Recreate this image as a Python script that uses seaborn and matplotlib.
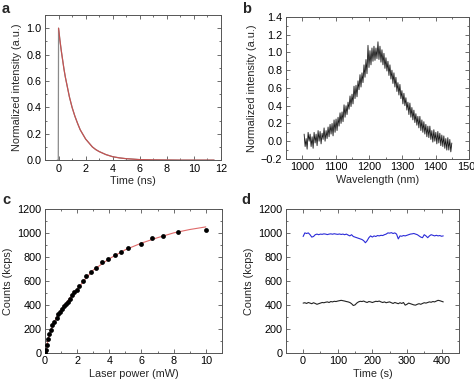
import numpy as np
import pandas as pd
import seaborn as sns
import matplotlib.pyplot as plt
from matplotlib.ticker import MultipleLocator

# ---- panel a: lifetime decay ----
decay_t = [-0.1, -0.02, 0.0, 0.1, 0.2, 0.3, 0.4, 0.5, 0.6, 0.8, 1.0, 1.2, 1.4, 1.6,
           1.8, 2.0, 2.25, 2.5, 2.75, 3.0, 3.5, 4.0, 4.5, 5.0, 6.0, 7.0, 8.0, 9.0,
           10.0, 11.0, 11.5]
decay_raw = [0.0, 0.0, 1.0, 0.91, 0.83, 0.76, 0.69, 0.63, 0.58, 0.48, 0.40, 0.335,
             0.28, 0.23, 0.195, 0.16, 0.13, 0.10, 0.08, 0.065, 0.042, 0.026, 0.017,
             0.011, 0.004, 0.002, 0.001, 0.0, 0.0, 0.0, 0.0]

# ---- panel b: emission spectrum ----
wl_start, wl_step = 1005, 3
spectrum = [
    0.08, -0.06, 0.03, -0.09, 0.10, 0.00, 0.08, -0.06, 0.05, -0.08,
    0.10, -0.02, 0.08, -0.05, 0.12, 0.00, 0.11, -0.03, 0.09, 0.02,
    0.15, 0.00, 0.12, 0.03, 0.16, 0.05, 0.19, 0.08, 0.20, 0.06,
    0.24, 0.10, 0.25, 0.12, 0.27, 0.17, 0.32, 0.20, 0.33, 0.22,
    0.41, 0.27, 0.40, 0.30, 0.44, 0.36, 0.51, 0.39, 0.53, 0.42,
    0.62, 0.48, 0.63, 0.50, 0.68, 0.58, 0.75, 0.61, 0.77, 0.66,
    0.86, 0.72, 0.92, 0.76, 1.08, 0.83, 1.02, 0.86, 1.05, 0.90,
    1.07, 0.91, 1.05, 0.93, 1.12, 0.92, 1.07, 0.89, 1.03, 0.86,
    0.99, 0.82, 0.94, 0.79, 0.90, 0.74, 0.86, 0.70, 0.80, 0.65,
    0.77, 0.61, 0.72, 0.56, 0.66, 0.52, 0.64, 0.48, 0.57, 0.42,
    0.54, 0.40, 0.49, 0.35, 0.44, 0.30, 0.43, 0.27, 0.38, 0.24,
    0.35, 0.21, 0.31, 0.18, 0.28, 0.15, 0.28, 0.12, 0.24, 0.10,
    0.22, 0.08, 0.19, 0.05, 0.17, 0.04, 0.17, 0.02, 0.12, -0.01,
    0.13, 0.00, 0.10, -0.03, 0.11, -0.02, 0.09, -0.05, 0.07, -0.06,
    0.06, -0.08, 0.03, -0.10, 0.04, -0.10, 0.02, -0.12, -0.02,
]

# ---- panel c: saturation ----
power = [0, 0.04, 0.10, 0.16, 0.25, 0.35, 0.45, 0.58, 0.72, 0.82, 0.93, 1.03,
         1.15, 1.30, 1.44, 1.55, 1.69, 1.79, 1.96, 2.12, 2.35, 2.58, 2.85, 3.15,
         3.57, 3.92, 4.35, 4.74, 5.15, 5.98, 6.66, 7.32, 8.25, 10.0]
counts = [0, 25, 66, 113, 158, 191, 232, 260, 293, 321, 343, 365, 393, 406, 428,
          453, 481, 509, 520, 556, 600, 641, 675, 708, 757, 785, 818, 838, 871,
          904, 957, 976, 1006, 1028]
fit_power = [0, 0.1, 0.25, 0.5, 0.75, 1.0, 1.5, 2, 2.5, 3, 4, 5, 6, 7, 8, 9, 10]
fit_counts = [0, 60, 140, 235, 305, 360, 450, 530, 615, 690, 785, 860, 915, 960,
              1000, 1028, 1050]

# ---- panel d: stability ----
time_step = 5
counts_high = [
    970, 1000, 995, 1000, 985, 965, 970, 985, 990, 985,
    990, 988, 992, 990, 986, 990, 992, 989, 993, 990,
    988, 991, 987, 990, 985, 990, 982, 975, 985, 970,
    965, 960, 955, 950, 945, 935, 918, 935, 960, 975,
    965, 975, 970, 978, 975, 980, 978, 985, 990, 1000,
    998, 1002, 995, 1000, 990, 950, 975, 972, 978, 975,
    980, 985, 990, 992, 995, 990, 985, 975, 965, 960,
    985, 975, 960, 975, 985, 980, 975, 980, 975, 978,
    972, 975,
]
counts_low = [
    415, 418, 412, 420, 415, 410, 418, 412, 405, 410,
    415, 420, 418, 422, 425, 420, 428, 425, 430, 428,
    432, 435, 438, 435, 432, 428, 425, 420, 410, 395,
    400, 415, 425, 430, 428, 432, 425, 420, 428, 425,
    420, 425, 430, 428, 432, 425, 420, 425, 418, 422,
    425, 418, 412, 420, 415, 410, 418, 412, 420, 398,
    405, 415, 410, 405, 400, 398, 405, 410, 405, 412,
    418, 415, 420, 425, 422, 428, 425, 432, 438, 435,
    430, 425,
]

sns.set_style("ticks")
plt.rcParams['font.family'] = ['Liberation Sans', 'DejaVu Sans']
plt.rcParams['font.size'] = 7.8

fig = plt.figure(figsize=(4.74, 3.84), dpi=100)
ax_a = fig.add_axes([0.095, 0.583, 0.371, 0.378])
ax_b = fig.add_axes([0.603, 0.586, 0.386, 0.370])
ax_c = fig.add_axes([0.095, 0.081, 0.373, 0.375])
ax_d = fig.add_axes([0.603, 0.081, 0.365, 0.375])

# a
df_a = pd.DataFrame({"t": decay_t, "I": decay_raw})
sns.lineplot(data=df_a, x="t", y="I", ax=ax_a, color="#8a8a8a", lw=0.9,
             estimator=None, sort=False)
sns.lineplot(data=df_a.iloc[2:], x="t", y="I", ax=ax_a, color="#c8504f", lw=0.8,
             estimator=None, sort=False)
ax_a.set_xlim(-1, 12)
ax_a.set_ylim(0, 1.1)
ax_a.xaxis.set_major_locator(MultipleLocator(2))
ax_a.xaxis.set_minor_locator(MultipleLocator(1))
ax_a.yaxis.set_major_locator(MultipleLocator(0.2))
ax_a.yaxis.set_minor_locator(MultipleLocator(0.1))
ax_a.yaxis.set_major_formatter(lambda v, p: f"{v:.1f}")
ax_a.set_xlabel("Time (ns)")
ax_a.set_ylabel("Normalized intensity (a.u.)")

# b
wavelength = wl_start + wl_step * np.arange(len(spectrum))
df_b = pd.DataFrame({"wl": wavelength, "I": spectrum})
sns.lineplot(data=df_b, x="wl", y="I", ax=ax_b, color="#111111", lw=0.6,
             estimator=None)
ax_b.set_xlim(950, 1500)
ax_b.set_ylim(-0.2, 1.4)
ax_b.xaxis.set_major_locator(MultipleLocator(100))
ax_b.xaxis.set_minor_locator(MultipleLocator(50))
ax_b.yaxis.set_major_locator(MultipleLocator(0.2))
ax_b.yaxis.set_minor_locator(MultipleLocator(0.1))
ax_b.yaxis.set_major_formatter(lambda v, p: f"{v:.1f}".replace("-", "\u2212"))
ax_b.set_xlabel("Wavelength (nm)")
ax_b.set_ylabel("Normalized intensity (a.u.)")

# c
sns.lineplot(x=fit_power, y=fit_counts, ax=ax_c, color="#e06a6a", lw=0.8,
             estimator=None)
sns.scatterplot(x=power, y=counts, ax=ax_c, color="black", s=12, linewidth=0,
                zorder=3)
ax_c.set_xlim(0, 11)
ax_c.set_ylim(0, 1200)
ax_c.xaxis.set_major_locator(MultipleLocator(2))
ax_c.xaxis.set_minor_locator(MultipleLocator(1))
ax_c.yaxis.set_major_locator(MultipleLocator(200))
ax_c.yaxis.set_minor_locator(MultipleLocator(100))
ax_c.set_xlabel("Laser power (mW)")
ax_c.set_ylabel("Counts (kcps)")

# d
time_s = time_step * np.arange(len(counts_high))
df_d = pd.DataFrame({"t": np.concatenate([time_s, time_s]),
                     "c": counts_high + counts_low,
                     "s": ["high"] * len(counts_high) + ["low"] * len(counts_low)})
sns.lineplot(data=df_d, x="t", y="c", hue="s", ax=ax_d, lw=0.8, estimator=None,
             palette={"high": "#2b2bd8", "low": "#222222"}, legend=False)
ax_d.set_xlim(-50, 450)
ax_d.set_ylim(0, 1200)
ax_d.xaxis.set_major_locator(MultipleLocator(100))
ax_d.xaxis.set_minor_locator(MultipleLocator(50))
ax_d.yaxis.set_major_locator(MultipleLocator(200))
ax_d.yaxis.set_minor_locator(MultipleLocator(100))
ax_d.set_xlabel("Time (s)")
ax_d.set_ylabel("Counts (kcps)")

for ax in (ax_a, ax_b, ax_c, ax_d):
    ax.tick_params(which="both", direction="in", top=True, right=True,
                   colors="#555555", labelcolor="black", labelsize=7.8, width=0.6)
    ax.tick_params(which="major", length=3, pad=2.5)
    ax.tick_params(which="minor", length=1.6)
    for sp in ax.spines.values():
        sp.set_color("#555555")
        sp.set_linewidth(0.7)
    ax.xaxis.labelpad = 2
    ax.yaxis.labelpad = 3

for lbl, (x, y) in zip("abcd", [(0.004, 0.995), (0.51, 0.995),
                                (0.004, 0.497), (0.51, 0.497)]):
    fig.text(x, y, lbl, fontsize=10.5, fontweight="bold", va="top", ha="left")

fig.savefig("out.png", dpi=100)
